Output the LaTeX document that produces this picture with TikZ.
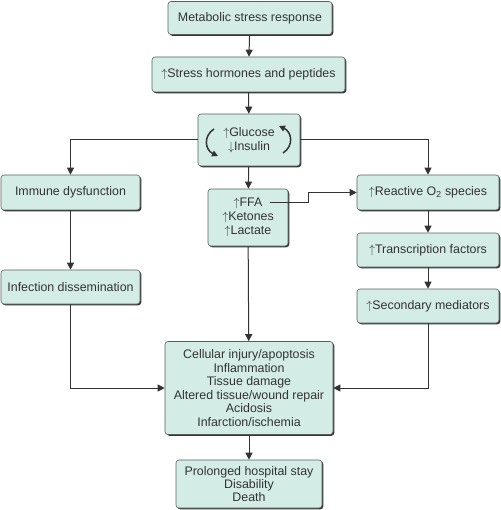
\documentclass[tikz,border=0pt]{standalone}
\usepackage{fontspec}
\setmainfont{Liberation Sans}
\usetikzlibrary{arrows.meta,positioning,calc,shadows}
\definecolor{boxfill}{HTML}{D4ECE6}
\definecolor{boxline}{HTML}{5A5F5E}
\definecolor{ink}{HTML}{333333}
\newcommand{\up}{$\uparrow$}
\newcommand{\dn}{$\downarrow$}

\begin{document}
\begin{tikzpicture}[x=1pt, y=-1pt,
  font=\fontsize{12.4}{14}\selectfont, text=ink,
  box/.style={draw=boxline, fill=boxfill, rounded corners=3pt, line width=0.6pt,
    inner sep=1pt, align=center,
    drop shadow={shadow xshift=1.3pt, shadow yshift=-1.3pt, fill=black!80, opacity=1}},
  arr/.style={-{Triangle[length=7pt, width=7pt]}, line width=1pt, draw=ink},
  lin/.style={line width=1pt, draw=ink},
  cyc/.style={-{Triangle[length=6pt, width=6pt]}, line width=1.5pt, draw=ink}]
\useasboundingbox (0,0) rectangle (500,510);
% top of the chain
\node[box, minimum width=164pt, minimum height=33pt] (msr) at (250,18) {Metabolic stress response};
\node[box, minimum width=193pt, minimum height=35pt] (shp) at (248.5,74.5) {\up Stress hormones and peptides};
\node[box, minimum width=102pt, minimum height=52pt] (glu) at (249,140) {\up Glucose\\\dn Insulin};
\draw[cyc] (214,129) .. controls (203,136) and (205,150) .. (218,156);
\draw[cyc] (283,153) .. controls (294,146) and (292,132) .. (279,126);
\draw[arr] (msr) -- (shp);
\draw[arr] (shp) -- (glu);
% left branch
\node[box, minimum width=139pt, minimum height=35pt] (imm) at (70.5,192.5) {Immune dysfunction};
\node[box, minimum width=139pt, minimum height=34pt] (inf) at (70.5,287) {Infection dissemination};
\draw[arr] (glu.west) -| (imm.north);
\draw[arr] (imm) -- (inf);
% middle branch
\node[box, minimum width=80pt, minimum height=57pt] (ffa) at (248,217.5) {\up FFA\\\up Ketones\\\up Lactate};
\coordinate (ffax) at (270,203);
\draw[arr] (glu) -- (ffa);
% right branch
\node[box, minimum width=142pt, minimum height=35pt] (ros) at (428,192.5) {\up Reactive O\textsubscript{2} species};
\node[box, minimum width=142pt, minimum height=34pt] (trf) at (428,250) {\up Transcription factors};
\node[box, minimum width=142pt, minimum height=34pt] (sec) at (428,306) {\up Secondary mediators};
\draw[arr] (glu.east) -| (ros.north);
\draw[arr] (ros) -- (trf);
\draw[arr] (trf) -- (sec);
\draw[arr] (ffax) -- (308,203) |- (ros.west);
% outcome
\node[box, minimum width=168pt, minimum height=93pt, font=\fontsize{12.4}{13.5}\selectfont] (cel) at (249,388) {Cellular injury/apoptosis\\Inflammation\\Tissue damage\\Altered tissue/wound repair\\Acidosis\\Infarction/ischemia};
\node[box, minimum width=146pt, minimum height=48pt, font=\fontsize{12.4}{13}\selectfont] (out) at (249,484) {Prolonged hospital stay\\Disability\\Death};
\draw[arr] (ffa) -- (cel);
\draw[arr] (inf.south) |- (cel.west);
\draw[arr] (sec.south) |- (cel.east);
\draw[arr] (cel) -- (out);
\end{tikzpicture}
\end{document}
